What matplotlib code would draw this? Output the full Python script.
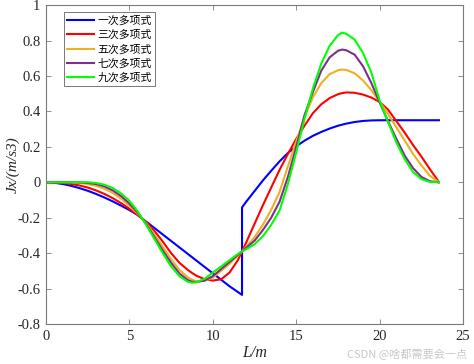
import matplotlib
matplotlib.use("Agg")
import matplotlib.pyplot as plt
from matplotlib.ticker import FuncFormatter

plt.rcParams['axes.unicode_minus'] = False

# x grid for smooth curves (m)
x = [0, 0.5, 1, 1.5, 2, 2.5, 3, 3.5, 4, 4.5, 5, 5.5, 6, 6.5, 7, 7.5, 8, 8.5, 8.75, 9, 9.5,
     10, 10.5, 11, 11.5, 11.75, 12, 12.5, 13, 13.5, 14, 14.5, 15, 15.5, 16, 16.5, 17,
     17.5, 17.75, 18, 18.5, 19, 19.5, 20, 20.5, 21, 21.5, 22, 22.5, 23, 23.5, 23.55]

red = [0, -0.001, -0.004, -0.01, -0.018, -0.03, -0.046, -0.066, -0.09, -0.118, -0.15, -0.185,
       -0.225, -0.275, -0.335, -0.4, -0.455, -0.495, -0.512, -0.527, -0.547, -0.555, -0.548,
       -0.51, -0.44, -0.39, -0.34, -0.235, -0.13, -0.03, 0.07, 0.16, 0.245, 0.32, 0.39, 0.44,
       0.475, 0.497, 0.503, 0.507, 0.505, 0.495, 0.478, 0.453, 0.41, 0.345, 0.28, 0.21, 0.145,
       0.075, 0.008, 0]

orange = [0, 0, 0, -0.001, -0.004, -0.01, -0.02, -0.037, -0.06, -0.092, -0.133, -0.178, -0.23,
          -0.295, -0.365, -0.435, -0.495, -0.537, -0.55, -0.558, -0.557, -0.538, -0.5, -0.46,
          -0.415, -0.39, -0.365, -0.31, -0.24, -0.155, -0.055, 0.09, 0.23, 0.37, 0.48, 0.56,
          0.61, 0.632, 0.636, 0.634, 0.615, 0.575, 0.52, 0.455, 0.385, 0.31, 0.235, 0.16, 0.095,
          0.037, 0.003, 0]

purple = [0, 0, 0, 0, -0.001, -0.004, -0.01, -0.024, -0.046, -0.078, -0.12, -0.172, -0.235,
          -0.31, -0.385, -0.455, -0.515, -0.552, -0.561, -0.564, -0.555, -0.53, -0.49, -0.45,
          -0.41, -0.39, -0.37, -0.33, -0.27, -0.2, -0.11, 0.03, 0.2, 0.38, 0.51, 0.63, 0.705,
          0.742, 0.749, 0.745, 0.72, 0.655, 0.56, 0.45, 0.345, 0.245, 0.15, 0.08, 0.03, 0.006,
          0, 0]

green = [0, 0, 0, 0, 0, 0, -0.004, -0.014, -0.033, -0.063, -0.105, -0.165, -0.24, -0.32, -0.4,
         -0.475, -0.53, -0.562, -0.567, -0.565, -0.545, -0.51, -0.475, -0.44, -0.405, -0.39,
         -0.378, -0.35, -0.305, -0.24, -0.16, -0.01, 0.17, 0.36, 0.53, 0.67, 0.77, 0.83, 0.845,
         0.838, 0.805, 0.73, 0.62, 0.46, 0.34, 0.225, 0.13, 0.058, 0.018, 0.002, 0, 0]

# first-order polynomial has a jump at the middle of the path
x_blue = [0, 0.5, 1, 1.5, 2, 2.5, 3, 3.5, 4, 4.5, 5, 5.5, 6, 7, 8, 9, 10, 11, 11.75,
          11.75, 12, 12.5, 13, 13.5, 14, 14.5, 15, 15.5, 16, 16.5, 17, 17.5, 18, 18.5, 19,
          19.5, 20, 23.55]
blue = [0, -0.003, -0.01, -0.02, -0.033, -0.048, -0.066, -0.086, -0.108, -0.132, -0.157,
        -0.185, -0.222, -0.295, -0.368, -0.441, -0.514, -0.587, -0.636,
        -0.142, -0.11, -0.05, 0.01, 0.065, 0.118, 0.165, 0.203, 0.235, 0.262, 0.284, 0.303,
        0.319, 0.331, 0.34, 0.346, 0.349, 0.35, 0.35]

labels = ['一次多项式', '三次多项式', '五次多项式', '七次多项式', '九次多项式']
colors = ['#0000FF', '#FF0000', '#EDB120', '#7E2F8E', '#00FF00']

xticks = [0, 5, 10, 15, 20, 25]
yticks = [-0.8, -0.6, -0.4, -0.2, 0, 0.2, 0.4, 0.6, 0.8, 1]

fig = plt.figure(figsize=(4.74, 3.64), dpi=100)
ax = fig.add_axes([0.097, 0.110, 0.880, 0.876])

series = [(x_blue, blue), (x, red), (x, orange), (x, purple), (x, green)]
for (xs, ys), lab, c in zip(series, labels, colors):
    ax.plot(xs, ys, color=c, lw=1.5, label=lab)

ax.set_xlim(0, 25)
ax.set_ylim(-0.8, 1)
ax.set_xticks(xticks)
ax.set_yticks(yticks)
ax.yaxis.set_major_formatter(FuncFormatter(lambda v, p: '%g' % round(v, 2)))

serif = ['Liberation Serif', 'DejaVu Serif']
frame_c = '#7a7a7a'
for s in ax.spines.values():
    s.set_color(frame_c)
    s.set_linewidth(0.8)
ax.tick_params(direction='in', top=True, right=True, length=3.5, width=0.6,
               color=frame_c, labelsize=10.5, labelcolor='#262626', pad=4)
for t in ax.get_xticklabels() + ax.get_yticklabels():
    t.set_fontfamily(serif)

ax.set_xlabel('L/m', fontsize=11.5, fontstyle='italic', family=serif, color='#262626', labelpad=2)
ax.set_ylabel('Jx/(m/s3)', fontsize=11, fontstyle='italic', family=serif, color='#262626')
ax.yaxis.set_label_coords(-0.062, 0.5)

leg = ax.legend(loc='upper left', bbox_to_anchor=(0.043, 0.978), frameon=True, fancybox=False,
                prop={'family': ['Noto Sans CJK SC', 'DejaVu Sans'], 'size': 7.8},
                handlelength=2.5, handletextpad=0.3, labelspacing=0.38, borderpad=0.3,
                borderaxespad=0.0)
leg.get_frame().set_edgecolor('#555555')
leg.get_frame().set_linewidth(0.7)

fig.text(0.985, 0.012, 'CSDN @啥都需要会一点', ha='right', va='bottom', fontsize=8,
         color='#c8c8c8', family=['Noto Sans CJK SC', 'DejaVu Sans'])

fig.savefig('out.png', dpi=100)
